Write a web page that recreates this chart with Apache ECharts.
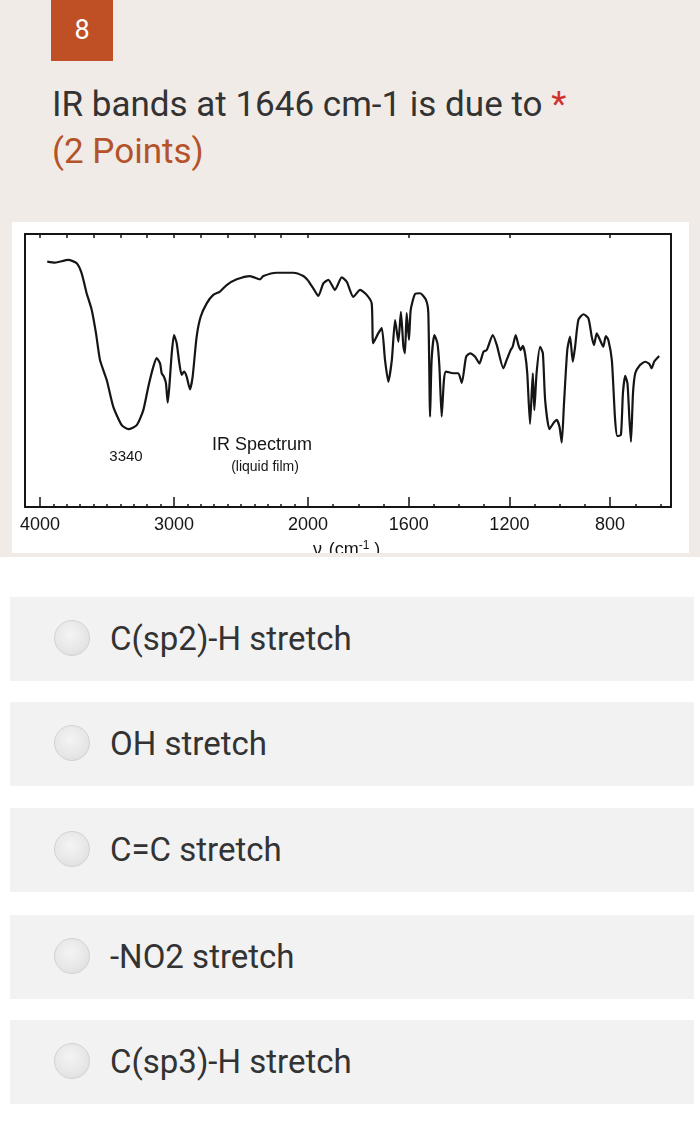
<!DOCTYPE html>
<html>
<head>
<meta charset="utf-8">
<script src="https://cdn.jsdelivr.net/npm/echarts@6/dist/echarts.min.js"></script>
<style>
body { margin:0; width:700px; height:1123px; background:#fff; position:relative; overflow:hidden;
       font-family: Roboto, "Noto Sans", sans-serif; }
.card { position:absolute; left:0; top:0; width:700px; height:557px; background:#f1ebe8; }
.num { position:absolute; left:51px; top:0; width:62px; height:61px; background:#bf5026; color:#fff;
       font-size:27px; line-height:61px; text-align:center; }
.q { position:absolute; left:52px; top:81px; font-size:35px; line-height:47px; color:#333; }
.q .star { color:#d0312d; }
.q .pts { color:#b4532a; }
#chart { position:absolute; left:12px; top:222px; width:677px; height:331px; background:#fff; }
.opt { position:absolute; left:10px; width:684px; height:84px; background:#f2f2f2; }
.opt .radio { position:absolute; left:44px; top:23px; width:36px; height:36px; border-radius:50%;
       box-sizing:border-box; border:1px solid #d2d2d2;
       background: radial-gradient(circle at 45% 40%, #f4f4f4 0%, #e6e6e6 60%, #d8d8d8 100%); }
.opt .txt { position:absolute; left:100px; top:0; line-height:84px; font-size:33px; color:#333; }
</style>
</head>
<body>
<div class="card">
  <div class="num">8</div>
  <div class="q">IR bands at 1646 cm-1 is due to <span class="star">*</span><br><span class="pts">(2 Points)</span></div>
  <div id="chart"></div>
</div>
<div class="opt" style="top:597px"><div class="radio"></div><div class="txt">C(sp2)-H stretch</div></div>
<div class="opt" style="top:702px"><div class="radio"></div><div class="txt">OH stretch</div></div>
<div class="opt" style="top:808px"><div class="radio"></div><div class="txt">C=C stretch</div></div>
<div class="opt" style="top:915px"><div class="radio"></div><div class="txt">-NO2 stretch</div></div>
<div class="opt" style="top:1020px"><div class="radio"></div><div class="txt">C(sp3)-H stretch</div></div>

<script>
// spectrum, high range 4000-2000 (compressed scale)
var hiWn = [3946, 3888, 3789, 3726, 3689, 3652, 3614, 3582, 3552, 3502,
            3453, 3390, 3340, 3278, 3229, 3192, 3154, 3129, 3104, 3092,
            3075, 3060, 3047, 3035, 3017, 3000, 2980, 2960, 2943, 2925,
            2905, 2881, 2861, 2831, 2801, 2756, 2707, 2657, 2607, 2532,
            2433, 2358, 2333, 2234, 2110, 2035, 2000];
var hiT  = [89.9, 89.5, 90.5, 89.3, 85.6, 78.3, 72.2, 63.6, 53.8, 46.5,
            36.7, 30, 28.5, 30, 35.5, 44, 51.4, 54.5, 52.6, 49,
            47.7, 45.3, 38.2, 44, 56.3, 63, 60, 52.6, 48.4, 49.6,
            47.7, 43.1, 47.7, 62.4, 69.7, 74.6, 77.7, 78.9, 81.3, 83.4,
            84.6, 83.4, 84.6, 85.8, 85.8, 84.6, 83];
// spectrum, low range 2000-600
var loWn = [2000, 1979, 1959, 1939, 1919, 1893, 1866, 1846, 1820, 1793,
            1767, 1747, 1741, 1721, 1707, 1694, 1681, 1667, 1654, 1641,
            1631, 1621, 1615, 1608, 1599, 1592, 1575, 1555, 1531, 1522,
            1515, 1509, 1498, 1486, 1478, 1469, 1460, 1452, 1423, 1403,
            1389, 1372, 1356, 1336, 1319, 1303, 1290, 1266, 1250, 1224,
            1211, 1195, 1187, 1175, 1164, 1155, 1147, 1138, 1129, 1118,
            1107, 1101, 1092, 1078, 1067, 1058, 1041, 1025, 1012, 1001,
            992, 983, 970, 959, 948, 939, 926, 906, 886, 873,
            864, 853, 840, 827, 817, 807, 793, 780, 771, 757,
            749, 740, 731, 723, 717, 709, 700, 681, 661, 644,
            635, 625, 605];
var loT  = [83, 80.1, 77.3, 81.9, 83.2, 79.5, 84.1, 82.5, 77, 79.5,
            77.7, 74.6, 60, 63.6, 65.5, 53.8, 45.9, 53.8, 68.5, 60.5,
            71.5, 58.7, 56.3, 71, 61.2, 72.2, 78, 78.3, 75.8, 71,
            33.1, 53.8, 63, 60, 51.4, 33.1, 46.5, 49.6, 49, 49,
            45.5, 55, 56.3, 55, 52.6, 56.9, 57.5, 63, 59.3, 50.8,
            53.8, 57.5, 58.7, 63, 59.3, 57.5, 59, 56.3, 49, 30.4,
            49, 35.5, 49, 58.7, 56.3, 39.2, 28.5, 30.7, 31.9, 29.4,
            23.6, 38, 57.5, 62.4, 53.2, 58.7, 68.5, 70.6, 69.1, 62.4,
            59.3, 63.6, 61.2, 58.7, 62.6, 61.2, 53.8, 31.9, 26, 26.4,
            41.6, 48, 45.3, 31.9, 23.9, 41.6, 49, 52, 53.2, 52.4,
            50.8, 53.2, 55.3];

// ticks / labels
var hiLabels = [4000, 3000, 2000];
var loLabels = [1600, 1200, 800];
var hiMinor = [3900, 3800, 3700, 3600, 3500, 3400, 3300, 3200, 3100,
               2900, 2800, 2700, 2600, 2500, 2400, 2300, 2200, 2100];
var loMinor = [1900, 1800, 1700, 1500, 1400, 1300, 1100, 1000, 900, 700, 600];
var hiTop = [4000, 3800, 3600, 3400, 3200, 3000, 2800, 2600, 2400, 2200, 2000];
var loTop = [1600, 1200, 800];

var ink = '#151515';
var lblFont = 'Liberation Sans, Arial, sans-serif';

function zip(a, b) {
    return a.map(function (v, i) { return [v, b[i]]; });
}

function bottomAxis(grid, min, max, labels) {
    return {
        gridIndex: grid, type: 'value', min: min, max: max, inverse: true, position: 'bottom',
        axisLine: { show: true, lineStyle: { color: ink, width: 2 } },
        axisTick: { show: true, inside: true, length: 10, customValues: labels, lineStyle: { color: ink, width: 1.5 } },
        axisLabel: {
            show: true, customValues: labels, margin: 9, color: ink, fontSize: 18, fontFamily: lblFont,
            formatter: function (v) { return String(v); }
        },
        splitLine: { show: false }
    };
}
function minorAxis(grid, min, max, vals) {
    return {
        gridIndex: grid, type: 'value', min: min, max: max, inverse: true, position: 'bottom',
        axisLine: { show: false },
        axisTick: { show: true, inside: true, length: 3, customValues: vals, lineStyle: { color: ink, width: 1.5 } },
        axisLabel: { show: false }, splitLine: { show: false }
    };
}
function topAxis(grid, min, max, vals) {
    return {
        gridIndex: grid, type: 'value', min: min, max: max, inverse: true, position: 'top',
        axisLine: { show: true, lineStyle: { color: ink, width: 2 } },
        axisTick: { show: true, inside: true, length: 4, customValues: vals, lineStyle: { color: ink, width: 1.5 } },
        axisLabel: { show: false }, splitLine: { show: false }
    };
}
function yAx(grid, pos) {
    return {
        gridIndex: grid, type: 'value', min: 0, max: 100, position: pos,
        axisLine: { show: true, lineStyle: { color: ink, width: 2 } },
        axisTick: { show: false }, axisLabel: { show: false }, splitLine: { show: false }
    };
}

var myChart = echarts.init(document.getElementById('chart'));
var option = {
    animation: false,
    grid: [
        { left: 13, top: 12, width: 283, height: 273 },
        { left: 296, top: 12, width: 363, height: 273 }
    ],
    xAxis: [
        bottomAxis(0, 2000, 4112, hiLabels),
        minorAxis(0, 2000, 4112, hiMinor),
        topAxis(0, 2000, 4112, hiTop),
        bottomAxis(1, 558, 2000, loLabels),
        minorAxis(1, 558, 2000, loMinor),
        topAxis(1, 558, 2000, loTop)
    ],
    yAxis: [yAx(0, 'left'), yAx(1, 'right')],
    series: [
        {
            type: 'line', xAxisIndex: 0, yAxisIndex: 0, data: zip(hiWn, hiT),
            showSymbol: false, smooth: 0.2, lineStyle: { color: ink, width: 2.2 }
        },
        {
            type: 'line', xAxisIndex: 3, yAxisIndex: 1, data: zip(loWn, loT),
            showSymbol: false, smooth: 0.2, lineStyle: { color: ink, width: 2.2 }
        }
    ],
    graphic: [
        { type: 'text', x: 114, y: 235, style: { text: '3340', fill: ink, font: '15px ' + lblFont, align: 'center', verticalAlign: 'middle' } },
        { type: 'text', x: 250, y: 223, style: { text: 'IR Spectrum', fill: ink, font: '18px ' + lblFont, align: 'center', verticalAlign: 'middle' } },
        { type: 'text', x: 253, y: 245, style: { text: '(liquid film)', fill: ink, font: '14px ' + lblFont, align: 'center', verticalAlign: 'middle' } },
        {
            type: 'text', x: 301, y: 318,
            style: {
                text: '{n|ν}  {n|(cm}{s|-1}{n| )}',
                verticalAlign: 'top',
                rich: {
                    n: { fill: ink, fontSize: 18, fontFamily: lblFont, lineHeight: 20 },
                    s: { fill: ink, fontSize: 12, fontFamily: lblFont, verticalAlign: 'top', lineHeight: 20 }
                }
            }
        }
    ]
};
myChart.setOption(option);
</script>
</body>
</html>
